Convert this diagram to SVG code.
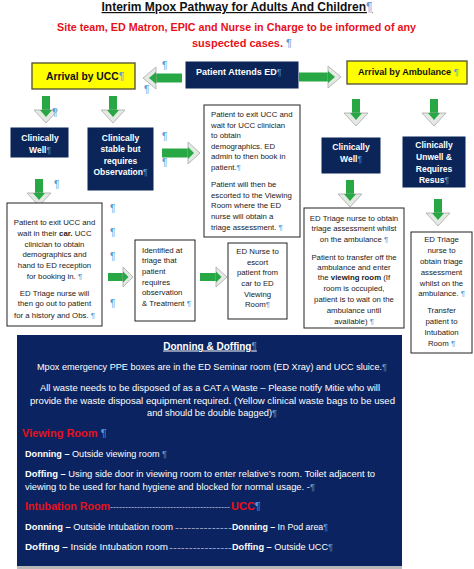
<svg xmlns="http://www.w3.org/2000/svg" width="474" height="569" viewBox="0 0 474 569">
<style>
text{font-family:"Liberation Sans",Arial,sans-serif;}
.pil{fill:#5b9bd5;font-weight:normal;}
.sp{font-size:10px;fill:#5b9bd5;}
.navy{fill:#0b2558;stroke:#0b2558;}
.yel{fill:#ffff00;stroke:#4d4d33;stroke-width:1.3;}
.tb{fill:#ffffff;stroke:#222222;stroke-width:1;}
.nt{fill:#ffffff;font-weight:bold;font-size:8.5px;text-anchor:middle;}
.t{font-size:7.8px;fill:#1a1a1a;}
.c{text-anchor:middle;}
.pt{fill:#ffffff;font-size:9px;}
.dash{fill:#d9def0;font-size:7px;font-weight:normal;}
.red{fill:#e8101a;font-weight:bold;}
.sh{fill:#27a844;}
.hd{fill:#e4e9e4;stroke:#a8a8a8;stroke-width:0.8;}
</style>
<rect width="474" height="569" fill="#ffffff"/>

<g id="title">
<text x="237" y="11" text-anchor="middle" font-size="12" font-weight="bold" fill="#111" text-decoration="underline">Interim Mpox Pathway for Adults And Children<tspan class="pil">¶</tspan></text>
<text x="57" y="31" font-size="10.5" class="red" textLength="359" lengthAdjust="spacingAndGlyphs">Site team, ED Matron, EPIC and Nurse in Charge to be informed of any</text>
<text x="192" y="47" font-size="10.5" class="red" textLength="100" lengthAdjust="spacingAndGlyphs">suspected cases. <tspan class="pil">¶</tspan></text>
</g>

<g id="connectors">
<!-- left arrow: Patient Attends ED -> Arrival by UCC -->
<rect class="sh" x="153" y="73.5" width="29" height="9"/>
<polygon class="hd" points="156,67 143,78 156,89"/>
<polygon class="sh" points="156,72 149,78 156,84"/>
<!-- right arrow: Patient Attends ED -> Arrival by Ambulance -->
<rect class="sh" x="299" y="72.5" width="31" height="9"/>
<polygon class="hd" points="328,66 341,77 328,88"/>
<polygon class="sh" points="328,71 335,77 328,83"/>
<!-- stable -> text box -->
<rect class="sh" x="162" y="148.5" width="27" height="9"/>
<polygon class="hd" points="188,142 200,153 188,164"/>
<polygon class="sh" points="188,147 194,153 188,159"/>
<!-- car box -> identified -->
<rect class="sh" x="108" y="273" width="16" height="8"/>
<polygon class="hd" points="123,267 133,277 123,287"/>
<polygon class="sh" points="123,271.5 128.5,277 123,282.5"/>
<!-- identified -> ED nurse -->
<rect class="sh" x="200" y="273" width="17" height="8"/>
<polygon class="hd" points="216,267 227,277 216,287"/>
<polygon class="sh" points="216,271.5 221.5,277 216,282.5"/>
<!-- down arrows -->
<g transform="translate(46,96)"><rect class="sh" x="-4" y="0" width="8" height="15"/><polygon class="hd" points="-12,14 12,14 0,27"/><polygon class="sh" points="-6,14 6,14 0,21"/></g>
<g transform="translate(113,96)"><rect class="sh" x="-4" y="0" width="8" height="15"/><polygon class="hd" points="-12,14 12,14 0,27"/><polygon class="sh" points="-6,14 6,14 0,21"/></g>
<g transform="translate(356,99)"><rect class="sh" x="-4" y="0" width="8" height="15"/><polygon class="hd" points="-12,14 12,14 0,27"/><polygon class="sh" points="-6,14 6,14 0,21"/></g>
<g transform="translate(434,99)"><rect class="sh" x="-4" y="0" width="8" height="15"/><polygon class="hd" points="-12,14 12,14 0,27"/><polygon class="sh" points="-6,14 6,14 0,21"/></g>
<g transform="translate(39,179)"><rect class="sh" x="-4" y="0" width="8" height="15"/><polygon class="hd" points="-12,14 12,14 0,27"/><polygon class="sh" points="-6,14 6,14 0,21"/></g>
<g transform="translate(350,180)"><rect class="sh" x="-4" y="0" width="8" height="15"/><polygon class="hd" points="-12,14 12,14 0,27"/><polygon class="sh" points="-6,14 6,14 0,21"/></g>
<g transform="translate(438,199)"><rect class="sh" x="-4" y="0" width="8" height="15"/><polygon class="hd" points="-12,14 12,14 0,27"/><polygon class="sh" points="-6,14 6,14 0,21"/></g>
</g>

<g id="stray-marks">
<text class="sp" x="162" y="69">¶</text>
<text class="sp" x="144" y="93">¶</text>
<text class="sp" x="52" y="116">¶</text>
<text class="sp" x="162" y="140">¶</text>
<text class="sp" x="162" y="166">¶</text>
<text class="sp" x="54" y="188">¶</text>
<text class="sp" x="110" y="212">¶</text>
<text class="sp" x="110" y="236">¶</text>
<text class="sp" x="110" y="260">¶</text>
<text class="sp" x="110" y="307">¶</text>
</g>

<g id="arrival-ucc">
<rect class="yel" x="32" y="63" width="103" height="26"/>
<text x="46" y="80" font-size="10.3" font-weight="bold" fill="#111">Arrival by UCC<tspan class="pil">¶</tspan></text>
</g>

<g id="patient-attends-ed">
<rect class="navy" x="186" y="62" width="112" height="26"/>
<text x="196" y="74.5" font-size="9" font-weight="bold" fill="#fff">Patient Attends ED<tspan class="pil">¶</tspan></text>
</g>

<g id="arrival-ambulance">
<rect class="yel" x="347" y="61" width="120" height="23"/>
<text x="358" y="74.5" font-size="9.1" font-weight="bold" fill="#111">Arrival by Ambulance <tspan class="pil">¶</tspan></text>
</g>

<g id="clinically-well-ucc">
<rect class="navy" x="11" y="128" width="57" height="29"/>
<text class="nt" x="40" y="141">Clinically</text>
<text class="nt" x="40" y="153">Well<tspan class="pil">¶</tspan></text>
</g>

<g id="clinically-stable">
<rect class="navy" x="88" y="128" width="65" height="62"/>
<text class="nt" x="120.5" y="140.5">Clinically</text>
<text class="nt" x="120.5" y="152">stable but</text>
<text class="nt" x="120.5" y="163.5">requires</text>
<text class="nt" x="120.5" y="175">Observation<tspan class="pil">¶</tspan></text>
</g>

<g id="clinically-well-amb">
<rect class="navy" x="322" y="138" width="58" height="35"/>
<text class="nt" x="351" y="150">Clinically</text>
<text class="nt" x="351" y="162">Well<tspan class="pil">¶</tspan></text>
</g>

<g id="clinically-unwell">
<rect class="navy" x="403" y="137" width="62" height="50"/>
<text class="nt" x="434" y="147.5">Clinically</text>
<text class="nt" x="434" y="159.5">Unwell &amp;</text>
<text class="nt" x="434" y="171.5">Requires</text>
<text class="nt" x="434" y="183">Resus<tspan class="pil">¶</tspan></text>
</g>

<g id="ucc-exit-wait">
<rect class="tb" x="204" y="105" width="96" height="132"/>
<text class="t" x="211" y="117">Patient to exit UCC and</text>
<text class="t" x="211" y="127.5">wait for UCC clinician</text>
<text class="t" x="211" y="138">to obtain</text>
<text class="t" x="211" y="148.5">demographics. ED</text>
<text class="t" x="211" y="159">admin to then book in</text>
<text class="t" x="211" y="169.5">patient.<tspan class="pil">¶</tspan></text>
<text class="t" x="211" y="187">Patient will then be</text>
<text class="t" x="211" y="197.5">escorted to the Viewing</text>
<text class="t" x="211" y="208">Room where the ED</text>
<text class="t" x="211" y="218.5">nurse will obtain a</text>
<text class="t" x="211" y="229.5">triage assessment. <tspan class="pil">¶</tspan></text>
</g>

<g id="ucc-car">
<rect class="tb" x="7" y="203" width="95" height="123"/>
<text class="t c" x="54.5" y="224.5">Patient to exit UCC and</text>
<text class="t c" x="54.5" y="235.5">wait in their <tspan font-weight="bold">car.</tspan> UCC</text>
<text class="t c" x="54.5" y="246.5">clinician to obtain</text>
<text class="t c" x="54.5" y="257">demographics and</text>
<text class="t c" x="54.5" y="267.5">hand to ED reception</text>
<text class="t c" x="54.5" y="278.5">for booking in. <tspan class="pil">¶</tspan></text>
<text class="t c" x="54.5" y="295.5">ED Triage nurse will</text>
<text class="t c" x="54.5" y="306">then go out to patient</text>
<text class="t c" x="54.5" y="317.5">for a history and Obs. <tspan class="pil">¶</tspan></text>
</g>

<g id="identified-triage">
<rect class="tb" x="135" y="240" width="60" height="81"/>
<text class="t" x="142" y="253">Identified at</text>
<text class="t" x="142" y="263">triage that</text>
<text class="t" x="142" y="273.5">patient</text>
<text class="t" x="142" y="284.5">requires</text>
<text class="t" x="142" y="294.5">observation</text>
<text class="t" x="142" y="305.5">&amp; Treatment <tspan class="pil">¶</tspan></text>
</g>

<g id="ed-nurse-escort">
<rect class="tb" x="228" y="243" width="59" height="76"/>
<text class="t c" x="257.5" y="253.5">ED Nurse to</text>
<text class="t c" x="257.5" y="264.5">escort</text>
<text class="t c" x="257.5" y="274.5">patient from</text>
<text class="t c" x="257.5" y="286">car to ED</text>
<text class="t c" x="257.5" y="296.8">Viewing</text>
<text class="t c" x="257.5" y="307">Room<tspan class="pil">¶</tspan></text>
</g>

<g id="ed-triage-ambulance">
<rect class="tb" x="304" y="208" width="100" height="120"/>
<text class="t c" x="354" y="221">ED Triage nurse to obtain</text>
<text class="t c" x="354" y="231">triage assessment whilst</text>
<text class="t c" x="354" y="241.8">on the ambulance <tspan class="pil">¶</tspan></text>
<text class="t c" x="354" y="259.5">Patient to transfer off the</text>
<text class="t c" x="354" y="269.5">ambulance and enter</text>
<text class="t c" x="354" y="280">the <tspan font-weight="bold">viewing room</tspan> (If</text>
<text class="t c" x="354" y="291">room is occupied,</text>
<text class="t c" x="354" y="301.8">patient is to wait on the</text>
<text class="t c" x="354" y="312.8">ambulance until</text>
<text class="t c" x="354" y="323.5">available) <tspan class="pil">¶</tspan></text>
</g>

<g id="ed-triage-resus">
<rect class="tb" x="411" y="232" width="61" height="121"/>
<text class="t c" x="441.5" y="242">ED Triage</text>
<text class="t c" x="441.5" y="252.8">nurse to</text>
<text class="t c" x="441.5" y="263.8">obtain triage</text>
<text class="t c" x="441.5" y="275">assessment</text>
<text class="t c" x="441.5" y="285.5">whilst on the</text>
<text class="t c" x="441.5" y="296">ambulance. <tspan class="pil">¶</tspan></text>
<text class="t c" x="441.5" y="312.8">Transfer</text>
<text class="t c" x="441.5" y="323.5">patient to</text>
<text class="t c" x="441.5" y="335">Intubation</text>
<text class="t c" x="441.5" y="345.5">Room <tspan class="pil">¶</tspan></text>
</g>

<g id="donning-doffing">
<rect x="17" y="335" width="385" height="231" fill="#0b2461"/>
<rect x="17" y="566" width="385" height="3" fill="#b8b8b8"/>
<text x="210" y="349.5" text-anchor="middle" font-size="10" font-weight="bold" fill="#fff" text-decoration="underline">Donning &amp; Doffing<tspan class="pil">¶</tspan></text>
<text class="pt" x="37" y="370.3" textLength="350" lengthAdjust="spacingAndGlyphs">Mpox emergency PPE boxes are in the ED Seminar room (ED Xray) and UCC sluice.<tspan class="pil">¶</tspan></text>
<text class="pt" x="40" y="391" textLength="340" lengthAdjust="spacingAndGlyphs">All waste needs to be disposed of as a CAT A Waste – Please notify Mitie who will</text>
<text class="pt" x="30" y="403.5" textLength="365" lengthAdjust="spacingAndGlyphs">provide the waste disposal equipment required. (Yellow clinical waste bags to be used</text>
<text class="pt" x="147" y="415.5" textLength="130" lengthAdjust="spacingAndGlyphs">and should be double bagged)<tspan class="pil">¶</tspan></text>
<text x="22" y="436.5" font-size="11" class="red">Viewing Room <tspan class="pil">¶</tspan></text>
<text class="pt" x="25" y="457" textLength="142" lengthAdjust="spacingAndGlyphs"><tspan font-weight="bold">Donning – </tspan>Outside viewing room <tspan class="pil">¶</tspan></text>
<text class="pt" x="25" y="477" textLength="350" lengthAdjust="spacingAndGlyphs"><tspan font-weight="bold">Doffing – </tspan>Using side door in viewing room to enter relative’s room. Toilet adjacent to</text>
<text class="pt" x="25" y="490" textLength="290" lengthAdjust="spacingAndGlyphs">viewing to be used for hand hygiene and blocked for normal usage. -<tspan class="pil">¶</tspan></text>
<text x="25" y="509.5" font-size="11" class="red" textLength="85" lengthAdjust="spacingAndGlyphs">Intubation Room</text>
<text class="dash" x="110" y="508.5" textLength="120" lengthAdjust="spacingAndGlyphs">----------------------------------------</text>
<text x="231" y="509.5" font-size="11" class="red">UCC<tspan class="pil">¶</tspan></text>
<text class="pt" x="25" y="530" textLength="148" lengthAdjust="spacingAndGlyphs"><tspan font-weight="bold">Donning – </tspan>Outside Intubation room</text>
<text class="dash" x="175" y="529.5" textLength="57" lengthAdjust="spacingAndGlyphs">--------------</text>
<text class="pt" x="232" y="530" textLength="96" lengthAdjust="spacingAndGlyphs"><tspan font-weight="bold">Donning – </tspan>In Pod area<tspan class="pil">¶</tspan></text>
<text class="pt" x="25" y="550" textLength="143" lengthAdjust="spacingAndGlyphs"><tspan font-weight="bold">Doffing – </tspan>Inside Intubation room</text>
<text class="dash" x="169" y="549.5" textLength="63" lengthAdjust="spacingAndGlyphs">----------------</text>
<text class="pt" x="232" y="550" textLength="101" lengthAdjust="spacingAndGlyphs"><tspan font-weight="bold">Doffing – </tspan>Outside UCC<tspan class="pil">¶</tspan></text>
</g>
</svg>
